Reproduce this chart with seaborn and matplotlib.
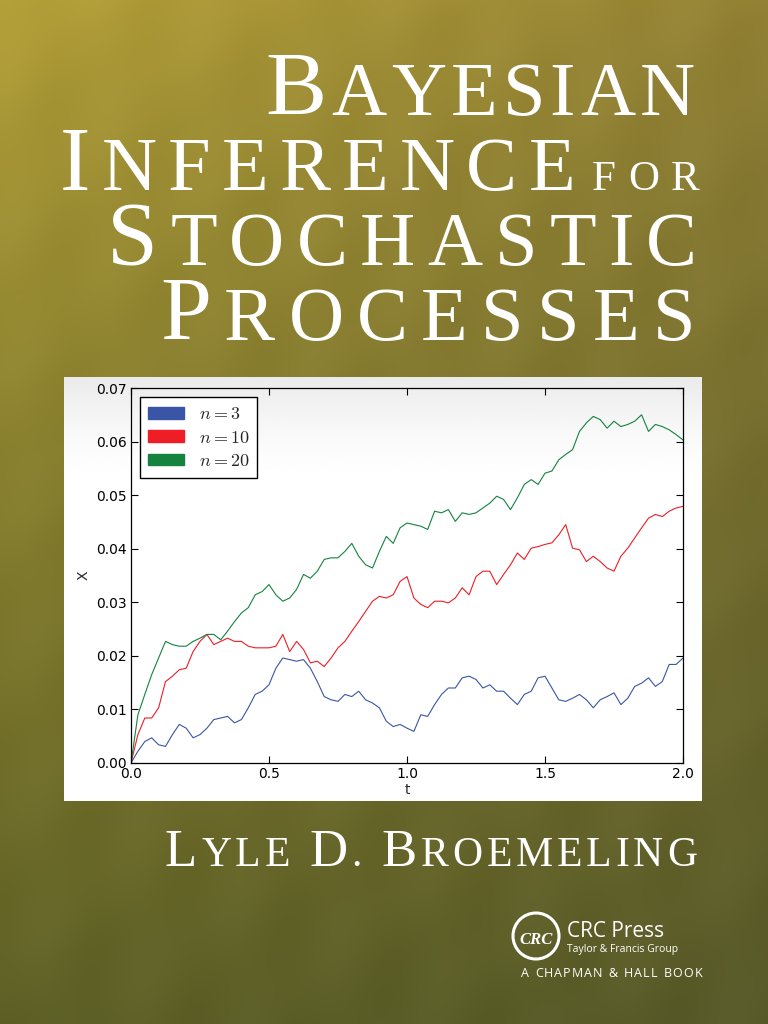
import numpy as np
import pandas as pd
import matplotlib
matplotlib.use("Agg")
import matplotlib.pyplot as plt
import matplotlib.transforms as mtrans
from matplotlib.patches import Patch, Circle
import seaborn as sns

# values, t = 0 .. 2 in steps of 0.025
n3 = [0.0000,
      0.0022, 0.0040, 0.0047, 0.0034, 0.0031, 0.0053, 0.0072, 0.0065, 0.0047, 0.0053,
      0.0065, 0.0081, 0.0084, 0.0087, 0.0075, 0.0081, 0.0103, 0.0128, 0.0134, 0.0146,
      0.0177, 0.0196, 0.0193, 0.0190, 0.0193, 0.0177, 0.0152, 0.0124, 0.0118, 0.0115,
      0.0128, 0.0124, 0.0134, 0.0118, 0.0112, 0.0103, 0.0078, 0.0068, 0.0072, 0.0065,
      0.0059, 0.0090, 0.0087, 0.0109, 0.0128, 0.0140, 0.0140, 0.0159, 0.0162, 0.0156,
      0.0140, 0.0146, 0.0134, 0.0134, 0.0121, 0.0109, 0.0128, 0.0134, 0.0159, 0.0162,
      0.0140, 0.0118, 0.0115, 0.0121, 0.0128, 0.0118, 0.0103, 0.0118, 0.0124, 0.0131,
      0.0109, 0.0121, 0.0143, 0.0149, 0.0159, 0.0143, 0.0152, 0.0184, 0.0184, 0.0196]
n10 = [0.0000,
       0.0053, 0.0084, 0.0084, 0.0103, 0.0152, 0.0162, 0.0174, 0.0177, 0.0208, 0.0227,
       0.0240, 0.0221, 0.0227, 0.0233, 0.0227, 0.0227, 0.0218, 0.0215, 0.0215, 0.0215,
       0.0218, 0.0240, 0.0208, 0.0227, 0.0212, 0.0187, 0.0190, 0.0180, 0.0196, 0.0215,
       0.0227, 0.0246, 0.0264, 0.0283, 0.0302, 0.0311, 0.0308, 0.0314, 0.0339, 0.0348,
       0.0308, 0.0296, 0.0290, 0.0302, 0.0302, 0.0299, 0.0308, 0.0327, 0.0314, 0.0348,
       0.0358, 0.0358, 0.0333, 0.0352, 0.0370, 0.0392, 0.0380, 0.0401, 0.0404, 0.0408,
       0.0411, 0.0426, 0.0445, 0.0401, 0.0398, 0.0376, 0.0386, 0.0376, 0.0364, 0.0358,
       0.0386, 0.0401, 0.0420, 0.0439, 0.0457, 0.0464, 0.0460, 0.0470, 0.0476, 0.0479]
n20 = [0.0000,
       0.0090, 0.0128, 0.0165, 0.0196, 0.0227, 0.0221, 0.0218, 0.0218, 0.0227, 0.0233,
       0.0240, 0.0240, 0.0230, 0.0246, 0.0264, 0.0280, 0.0290, 0.0314, 0.0320, 0.0333,
       0.0314, 0.0302, 0.0308, 0.0324, 0.0352, 0.0345, 0.0358, 0.0380, 0.0383, 0.0383,
       0.0395, 0.0410, 0.0386, 0.0370, 0.0364, 0.0395, 0.0423, 0.0410, 0.0439, 0.0448,
       0.0445, 0.0442, 0.0436, 0.0470, 0.0467, 0.0473, 0.0451, 0.0467, 0.0464, 0.0467,
       0.0476, 0.0485, 0.0498, 0.0492, 0.0473, 0.0495, 0.0520, 0.0529, 0.0520, 0.0541,
       0.0545, 0.0566, 0.0576, 0.0585, 0.0619, 0.0635, 0.0647, 0.0641, 0.0625, 0.0638,
       0.0628, 0.0632, 0.0638, 0.0650, 0.0619, 0.0632, 0.0628, 0.0622, 0.0613, 0.0603]
series_names = ["$n=3$", "$n=10$", "$n=20$"]
series_colors = ["#3a55a6", "#ee1d26", "#13833f"]
x_ticks = [0.0, 0.5, 1.0, 1.5, 2.0]
y_ticks = [0.00, 0.01, 0.02, 0.03, 0.04, 0.05, 0.06, 0.07]

W, H = 768, 1024
sns.set_style("ticks")
plt.rcParams["font.family"] = ["DejaVu Sans"]
plt.rcParams["mathtext.fontset"] = "cm"

fig = plt.figure(figsize=(W / 100, H / 100), dpi=100)
px = mtrans.Affine2D().scale(1 / W, -1 / H).translate(0, 1) + fig.transFigure

# olive / gold cover background
bg = fig.add_axes([0, 0, 1, 1])
bg.axis("off")
gy, gx = np.mgrid[0:1:256j, 0:1:192j]
tl = np.array([0.71, 0.63, 0.22])
tr = np.array([0.58, 0.51, 0.21])
bl = np.array([0.37, 0.38, 0.15])
br = np.array([0.34, 0.35, 0.16])
fy = (gy ** 0.85)[..., None]
fx = gx[..., None]
img = (1 - fy) * ((1 - fx) * tl + fx * tr) + fy * ((1 - fx) * bl + fx * br)
streak = 0.012 * np.sin(40 * (gx + 0.5 * gy)) * np.sin(23 * (gy - 0.4 * gx))
img = np.clip(img + streak[..., None], 0, 1)
bg.imshow(img, extent=[0, 1, 0, 1], aspect="auto", interpolation="bicubic")
bg.set_xlim(0, 1)
bg.set_ylim(0, 1)

renderer = fig.canvas.get_renderer()


def caps_line(words, x0, x1, base, big, small, space=0, family="Liberation Serif"):
    # small caps: upper-case letters big, the rest as small capitals
    objs, word_end = [], []
    for w in words:
        for c in w:
            size = big if c.isupper() else small
            objs.append(fig.text(0, 0, c.upper(), fontsize=size, family=family,
                                 color="white", ha="left", va="baseline", transform=px))
        word_end.append(len(objs) - 1)
    widths = [o.get_window_extent(renderer).width for o in objs]
    gap = (x1 - x0 - sum(widths) - space * (len(words) - 1)) / (len(objs) - 1)
    x = x0
    for i, (o, w) in enumerate(zip(objs, widths)):
        o.set_position((x, base))
        x += w + gap
        if i in word_end:
            x += space


caps_line(["Bayesian"], 265, 695, 115, 66, 55)
caps_line(["Inference"], 60, 575, 190, 66, 55)
caps_line(["for"], 592, 700, 190, 31, 31)
caps_line(["Stochastic"], 107, 697, 265, 66, 55)
caps_line(["Processes"], 160, 695, 340, 66, 55)
caps_line(["Lyle", "D.", "Broemeling"], 165, 697, 866, 38, 30, space=16)

# white chart panel with a light grey top
pan = fig.add_axes([64 / W, 1 - 801 / H, 638 / W, 424 / H])
pan.axis("off")
v = np.linspace(1, 0, 200)
shade = 1 - 0.08 * np.clip((v - 0.75) / 0.25, 0, 1) ** 1.5
pan.imshow(np.repeat(shade[:, None], 2, axis=1), cmap="gray", vmin=0, vmax=1,
           extent=[0, 1, 0, 1], aspect="auto")

ax = fig.add_axes([131 / W, 1 - 763 / H, 552 / W, 375 / H])
ax.set_facecolor("none")
t = np.linspace(0, 2, len(n3))
df = pd.concat([pd.DataFrame({"t": t, "X": vals, "n": name})
                for vals, name in zip([n3, n10, n20], series_names)])
sns.lineplot(data=df, x="t", y="X", hue="n", palette=series_colors,
             linewidth=0.8, ax=ax, legend=False)
ax.set_xlim(0, 2)
ax.set_ylim(0, 0.07)
ax.set_xticks(x_ticks)
ax.set_xticklabels([f"{v:.1f}" for v in x_ticks])
ax.set_yticks(y_ticks)
ax.set_yticklabels([f"{v:.2f}" for v in y_ticks])
ax.tick_params(direction="in", top=True, right=True, length=5, width=0.8,
               labelsize=10, pad=3, colors="black")
for s in ax.spines.values():
    s.set_color("black")
    s.set_linewidth(0.9)
ax.set_xlabel("t", fontsize=10, labelpad=1)
ax.set_ylabel("X", fontsize=10, labelpad=4)
handles = [Patch(facecolor=c, edgecolor=c) for c in series_colors]
leg = ax.legend(handles, series_names, loc="upper left", fontsize=13,
                frameon=True, fancybox=False, edgecolor="black",
                handlelength=2.0, handleheight=0.6, borderaxespad=0.5,
                labelspacing=0.3, handletextpad=0.8, borderpad=0.45)
leg.get_frame().set_linewidth(1.0)
leg.get_frame().set_alpha(1)

# publisher mark
fig.patches.append(Circle((536, 936), 23, transform=px, fill=False,
                          edgecolor="white", linewidth=2.2))
fig.text(536, 944, "CRC", transform=px, ha="center", va="baseline", color="white",
         fontsize=12, family="Liberation Serif", weight="bold", style="italic")
fig.text(567, 937, "CRC Press", transform=px, ha="left", va="baseline",
         color="white", fontsize=15, family="Open Sans")
fig.text(567, 952, "Taylor & Francis Group", transform=px, ha="left",
         va="baseline", color="white", fontsize=7.5, family="Open Sans")
caps_line(["A", "CHAPMAN", "&", "HALL", "BOOK"], 521, 702, 977, 9, 9, space=5,
          family="Open Sans")

fig.savefig("out.png", dpi=100)
